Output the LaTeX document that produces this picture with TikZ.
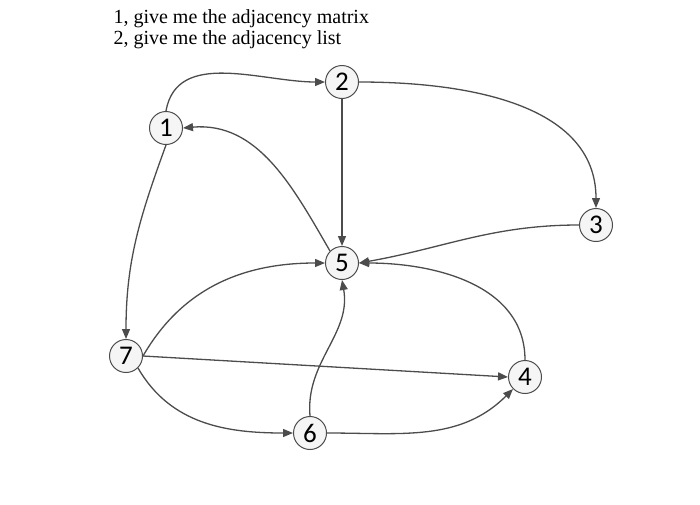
\documentclass[tikz,border=0pt]{standalone}
\usepackage{fontspec}
\setmainfont{Liberation Serif}
\newfontfamily\numfont{Carlito}
\usetikzlibrary{arrows.meta}
\begin{document}
\begin{tikzpicture}[x=1pt,y=-1pt,
  vtx/.style={circle,draw=black!70,line width=1pt,fill=black!4,minimum size=33pt,inner sep=0pt,font=\numfont\fontsize{27}{27}\selectfont},
  edge/.style={draw=black!70,line width=1.3pt,-{Triangle[length=10pt,width=8pt]}}]
\useasboundingbox (0,0) rectangle (700,504);
\node[anchor=north west,align=left,font=\fontsize{20}{21}\selectfont] (t) at (110,6) {1, give me the adjacency matrix\\2, give me the adjacency list};
\node[vtx] (1) at (166,128) {1};
\node[vtx] (2) at (342,82) {2};
\node[vtx] (3) at (596,225) {3};
\node[vtx] (5) at (342,263) {5};
\node[vtx] (7) at (126,356) {7};
\node[vtx] (4) at (525,377) {4};
\node[vtx] (6) at (310,433) {6};
\draw[edge] (1.north) to[out=80,in=180] (2.west);
\draw[edge] (2.east) to[out=0,in=90] (3.north);
\draw[edge] (2.south) -- (5.north);
\draw[edge] (3.west) to[out=180,in=10] (5.east);
\draw[edge] (5.north west) to[out=120,in=5] (1.east);
\draw[edge] (1.south) to[out=250,in=90] (7.north);
\draw[edge] (7.east) to[out=60,in=180] (5.west);
\draw[edge] (7.east) -- (4.west);
\draw[edge] (7.south east) to[out=-60,in=180] (6.west);
\draw[edge] (6.north) to[out=95,in=-80] (5.south);
\draw[edge] (6.east) to[out=0,in=-135] (4.south west);
\draw[edge] (4.north) to[out=90,in=0] (5.east);
\end{tikzpicture}
\end{document}
